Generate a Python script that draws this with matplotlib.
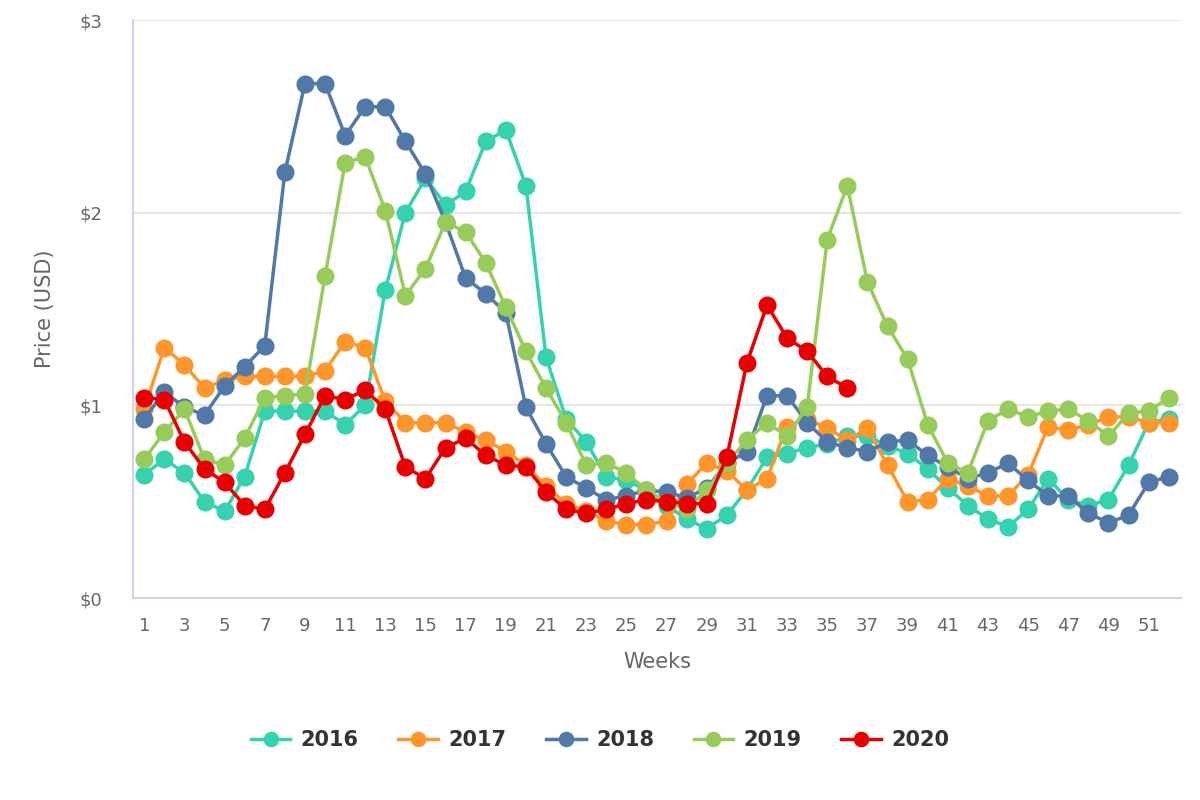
import matplotlib
matplotlib.use("Agg")
import matplotlib.pyplot as plt
from matplotlib.ticker import FuncFormatter

weeks = list(range(1, 53))

price_2016 = [0.64, 0.72, 0.65, 0.50, 0.45, 0.63, 0.97, 0.97, 0.97, 0.97,
              0.90, 1.00, 1.60, 2.00, 2.18, 2.04, 2.11, 2.37, 2.43, 2.14,
              1.25, 0.93, 0.81, 0.63, 0.61, 0.56, 0.48, 0.41, 0.36, 0.43,
              0.56, 0.73, 0.75, 0.78, 0.80, 0.84, 0.84, 0.79, 0.75, 0.67,
              0.57, 0.48, 0.41, 0.37, 0.46, 0.62, 0.51, 0.48, 0.51, 0.69,
              0.91, 0.93]
price_2017 = [0.98, 1.30, 1.21, 1.09, 1.13, 1.15, 1.15, 1.15, 1.15, 1.18,
              1.33, 1.30, 1.02, 0.91, 0.91, 0.91, 0.86, 0.82, 0.76, 0.69,
              0.58, 0.49, 0.45, 0.40, 0.38, 0.38, 0.40, 0.59, 0.70, 0.66,
              0.56, 0.62, 0.89, 0.93, 0.88, 0.82, 0.88, 0.69, 0.50, 0.51,
              0.62, 0.58, 0.53, 0.53, 0.64, 0.89, 0.87, 0.90, 0.94, 0.94,
              0.91, 0.91]
price_2018 = [0.93, 1.07, 0.99, 0.95, 1.10, 1.20, 1.31, 2.21, 2.67, 2.67,
              2.40, 2.55, 2.55, 2.37, 2.20, 1.95, 1.66, 1.58, 1.48, 0.99,
              0.80, 0.63, 0.57, 0.51, 0.53, 0.56, 0.55, 0.52, 0.57, 0.70,
              0.76, 1.05, 1.05, 0.91, 0.81, 0.78, 0.76, 0.81, 0.82, 0.74,
              0.68, 0.62, 0.65, 0.70, 0.61, 0.53, 0.53, 0.44, 0.39, 0.43,
              0.60, 0.63]
price_2019 = [0.72, 0.86, 0.98, 0.72, 0.69, 0.83, 1.04, 1.05, 1.06, 1.67,
              2.26, 2.29, 2.01, 1.57, 1.71, 1.95, 1.90, 1.74, 1.51, 1.28,
              1.09, 0.91, 0.69, 0.70, 0.65, 0.56, 0.50, 0.46, 0.56, 0.70,
              0.82, 0.91, 0.84, 0.99, 1.86, 2.14, 1.64, 1.41, 1.24, 0.90,
              0.70, 0.65, 0.92, 0.98, 0.94, 0.97, 0.98, 0.92, 0.84, 0.96,
              0.97, 1.04]
price_2020 = [1.04, 1.03, 0.81, 0.67, 0.60, 0.48, 0.46, 0.65, 0.85, 1.05,
              1.03, 1.08, 0.98, 0.68, 0.62, 0.78, 0.83, 0.74, 0.69, 0.68,
              0.55, 0.46, 0.44, 0.46, 0.49, 0.51, 0.50, 0.49, 0.49, 0.73,
              1.22, 1.52, 1.35, 1.28, 1.15, 1.09]

series = [
    ("2016", price_2016, "#35d2af"),
    ("2017", price_2017, "#fe962b"),
    ("2018", price_2018, "#5079a8"),
    ("2019", price_2019, "#98cc5a"),
    ("2020", price_2020, "#e60000"),
]

fig = plt.figure(figsize=(12, 8), dpi=100)
ax = fig.add_axes([0.111, 0.2525, 0.873, 0.7225])

for name, vals, color in series:
    ax.plot(weeks[:len(vals)], vals, color=color, lw=2.5, marker="o",
            markersize=12, label=name, clip_on=False, zorder=3)

ax.set_xlim(0.45, 52.6)
ax.set_ylim(0, 3)
ax.set_yticks([0, 1, 2, 3])
ax.yaxis.set_major_formatter(FuncFormatter(lambda v, p: "$%d" % v))
ax.set_xticks(range(1, 53, 2))
ax.grid(axis="y", color="#e6e6e6", lw=1.5, zorder=0)
ax.grid(axis="x", visible=False)

for s in ["top", "right"]:
    ax.spines[s].set_visible(False)
for s in ["left", "bottom"]:
    ax.spines[s].set_color("#ccd6eb")
    ax.spines[s].set_linewidth(1.5)

ax.tick_params(axis="both", length=0, labelsize=13, labelcolor="#666666")
ax.tick_params(axis="x", pad=14)
ax.tick_params(axis="y", pad=22)
ax.set_xlabel("Weeks", fontsize=15, color="#666666", labelpad=12)
ax.set_ylabel("Price (USD)", fontsize=15, color="#666666", labelpad=18)

leg = fig.legend(loc="center", bbox_to_anchor=(0.5, 0.075), ncol=5,
                 frameon=False, handlelength=1.9, columnspacing=1.9,
                 handletextpad=0.5, prop={"size": 15, "weight": "bold"},
                 markerscale=0.85)
for t in leg.get_texts():
    t.set_color("#333333")

fig.savefig("out.png", dpi=100)
